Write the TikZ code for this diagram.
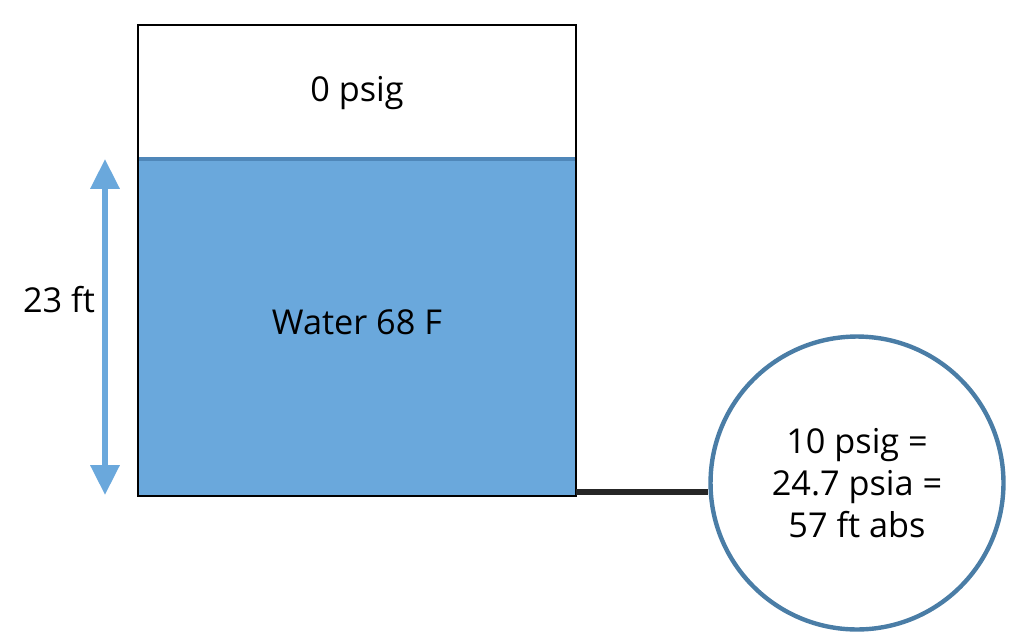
\documentclass[tikz,border=0pt]{standalone}
\usepackage{fontspec}
\setmainfont{Open Sans}
\usetikzlibrary{arrows.meta}
\definecolor{waterblue}{HTML}{6AA8DC}
\definecolor{waterline}{HTML}{4F87B9}
\definecolor{gaugeblue}{HTML}{4A7DA6}
\begin{document}
\begin{tikzpicture}[x=0.02cm, y=0.02cm, font=\fontsize{19.5}{24}\selectfont]
	\useasboundingbox (0,0) rectangle (1024,637);
		\fill[waterblue] (138,141) rectangle (576,478);
		\draw[waterline, line width=2pt] (138,478) -- (576,478);
		\draw[line width=1pt] (138,141) rectangle (576,612);
		\node (top) at (357,544) {0 psig};
		\node (water) at (357,315) {Water 68 F};
		\coordinate (low) at (105,142);
		\coordinate (high) at (105,478);
		\draw[waterblue, line width=3.4pt, {Triangle[width=16pt, length=17pt]}-{Triangle[width=16pt, length=17pt]}] (low) -- (high);
		\node (height) at (59,337) {23 ft};
		\node[circle, draw=gaugeblue, line width=2.5pt, minimum size=5.86cm, align=center] (gauge) at (857,154) {10 psig =\\24.7 psia =\\57 ft abs};
		\coordinate (tap) at (576,145);
		\draw[line width=3.4pt, color=black!85] (tap) -- (tap -| gauge.west);
	\end{tikzpicture}
\end{document}
